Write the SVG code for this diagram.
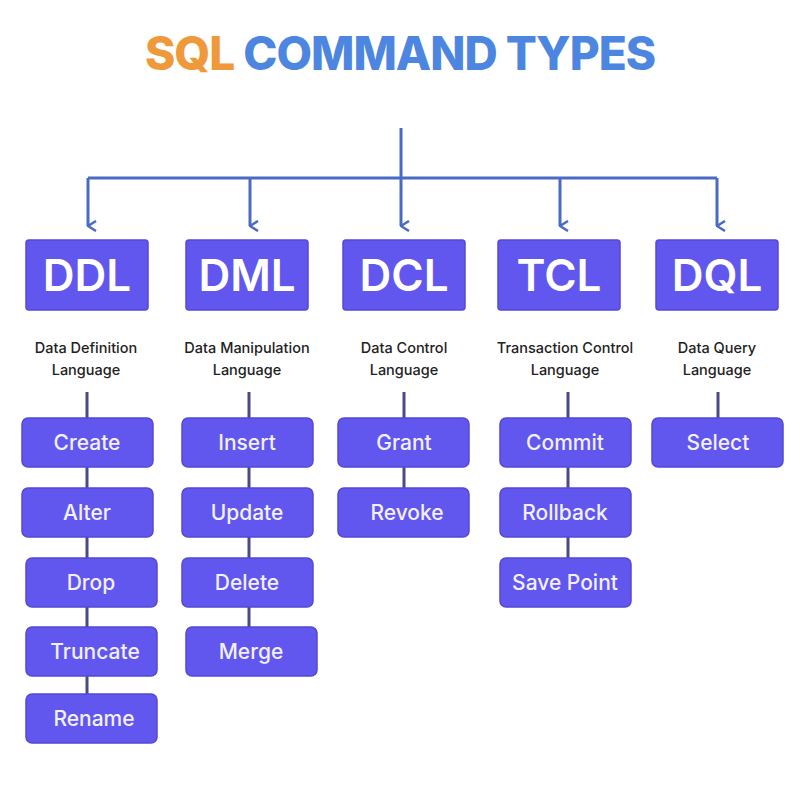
<svg xmlns="http://www.w3.org/2000/svg" width="800" height="785" viewBox="0 0 800 785">
<defs>
<style>
.hd{fill:#6157ee;stroke:#5249d6;stroke-width:1.5}
.sb{fill:#6157ee;stroke:#5249d6;stroke-width:1.5}
.ht{font-family:"Inter","Liberation Sans",sans-serif;font-weight:600;font-size:44px;fill:#fff;text-anchor:middle}
.st{font-family:"Inter","Liberation Sans",sans-serif;font-weight:500;font-size:21px;fill:#f2f0ff;text-anchor:middle}
.lb{font-family:"Inter","Liberation Sans",sans-serif;font-weight:500;font-size:14.5px;fill:#222;text-anchor:middle}
.ar{stroke:#4a6bc4;stroke-width:3;fill:none}
.ln{stroke:#4a4a86;stroke-width:3;fill:none}
</style>
<marker id="ah" viewBox="0 0 12 10" refX="6" refY="9" markerWidth="12" markerHeight="10" markerUnits="userSpaceOnUse" orient="auto-start-reverse">
<path d="M1 1 L6 9 L11 1" fill="none" stroke="#4a6bc4" stroke-width="2.5"/>
</marker>
</defs>
<rect width="800" height="785" fill="#fff"/>
<text x="400" y="70" text-anchor="middle" font-family="Inter,'Liberation Sans',sans-serif" font-weight="800" font-size="46" letter-spacing="-1"><tspan fill="#f0993a">SQL </tspan><tspan fill="#4d86e0">COMMAND TYPES</tspan></text>
<g id="connectors">
<path class="ar" d="M401 128 V178"/>
<path class="ar" d="M88 178 H717"/>
<path class="ar" d="M88 178 V226" marker-end="url(#ah)"/>
<path class="ar" d="M250 178 V226" marker-end="url(#ah)"/>
<path class="ar" d="M401 178 V226" marker-end="url(#ah)"/>
<path class="ar" d="M560 178 V226" marker-end="url(#ah)"/>
<path class="ar" d="M717 178 V226" marker-end="url(#ah)"/>
<path class="ln" d="M87 392 V694"/>
<path class="ln" d="M249 392 V627"/>
<path class="ln" d="M404 392 V488"/>
<path class="ln" d="M568 392 V558"/>
<path class="ln" d="M718 392 V418"/>
</g>
<g id="ddl"><rect class="hd" x="26" y="240" width="122" height="70" rx="3"/><text class="ht" x="87" y="291">DDL</text>
<text class="lb" x="86" y="353">Data Definition</text><text class="lb" x="86" y="375">Language</text></g>
<g id="dml"><rect class="hd" x="186" y="240" width="122" height="70" rx="3"/><text class="ht" x="247" y="291">DML</text>
<text class="lb" x="247" y="353">Data Manipulation</text><text class="lb" x="247" y="375">Language</text></g>
<g id="dcl"><rect class="hd" x="343" y="240" width="122" height="70" rx="3"/><text class="ht" x="404" y="291">DCL</text>
<text class="lb" x="404" y="353">Data Control</text><text class="lb" x="404" y="375">Language</text></g>
<g id="tcl"><rect class="hd" x="498" y="240" width="122" height="70" rx="3"/><text class="ht" x="559" y="291">TCL</text>
<text class="lb" x="565" y="353">Transaction Control</text><text class="lb" x="565" y="375">Language</text></g>
<g id="dql"><rect class="hd" x="656" y="240" width="122" height="70" rx="3"/><text class="ht" x="717" y="291">DQL</text>
<text class="lb" x="717" y="353">Data Query</text><text class="lb" x="717" y="375">Language</text></g>
<g id="create"><rect class="sb" x="22" y="418" width="131" height="49" rx="6"/><text class="st" x="87" y="450">Create</text></g>
<g id="alter"><rect class="sb" x="22" y="488" width="131" height="49" rx="6"/><text class="st" x="87" y="520">Alter</text></g>
<g id="drop"><rect class="sb" x="26" y="558" width="131" height="49" rx="6"/><text class="st" x="91" y="590">Drop</text></g>
<g id="truncate"><rect class="sb" x="26" y="627" width="131" height="49" rx="6"/><text class="st" x="95" y="659">Truncate</text></g>
<g id="rename"><rect class="sb" x="26" y="694" width="131" height="49" rx="6"/><text class="st" x="94" y="726">Rename</text></g>
<g id="insert"><rect class="sb" x="182" y="418" width="131" height="49" rx="6"/><text class="st" x="247" y="450">Insert</text></g>
<g id="update"><rect class="sb" x="182" y="488" width="131" height="49" rx="6"/><text class="st" x="247" y="520">Update</text></g>
<g id="delete"><rect class="sb" x="182" y="558" width="131" height="49" rx="6"/><text class="st" x="247" y="590">Delete</text></g>
<g id="merge"><rect class="sb" x="186" y="627" width="131" height="49" rx="6"/><text class="st" x="251" y="659">Merge</text></g>
<g id="grant"><rect class="sb" x="338" y="418" width="131" height="49" rx="6"/><text class="st" x="404" y="450">Grant</text></g>
<g id="revoke"><rect class="sb" x="338" y="488" width="131" height="49" rx="6"/><text class="st" x="407" y="520">Revoke</text></g>
<g id="commit"><rect class="sb" x="500" y="418" width="131" height="49" rx="6"/><text class="st" x="565" y="450">Commit</text></g>
<g id="rollback"><rect class="sb" x="500" y="488" width="131" height="49" rx="6"/><text class="st" x="565" y="520">Rollback</text></g>
<g id="savepoint"><rect class="sb" x="500" y="558" width="131" height="49" rx="6"/><text class="st" x="565" y="590">Save Point</text></g>
<g id="select"><rect class="sb" x="652" y="418" width="131" height="49" rx="6"/><text class="st" x="718" y="450">Select</text></g>
</svg>
